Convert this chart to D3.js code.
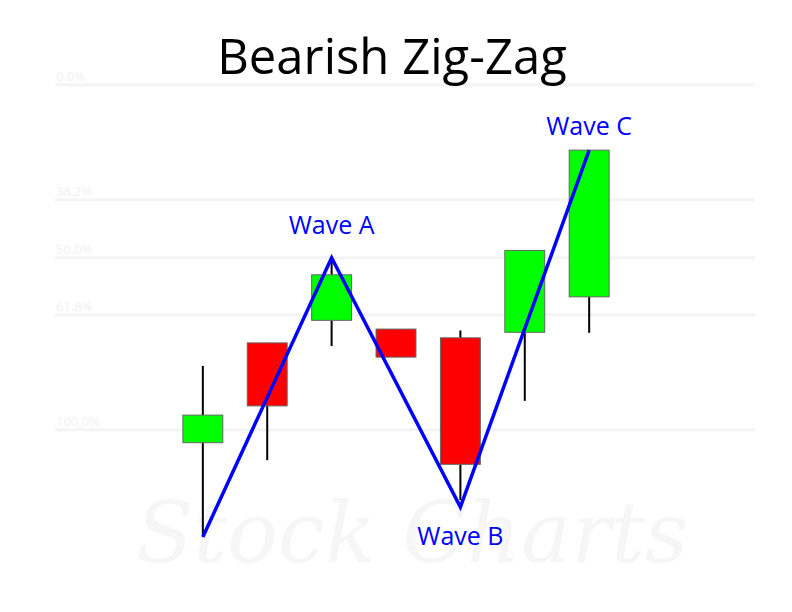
<!DOCTYPE html>
<html>
<head>
<meta charset="utf-8">
<script src="https://cdn.jsdelivr.net/npm/d3@7"></script>
<style>
  body { margin: 0; background: #fff; }
  svg { display: block; }
</style>
</head>
<body>
<script>
// candle data, in arbitrary price units
const candleIds = [1, 2, 3, 4, 5, 6, 7];
const opens  = [25.5, 47.2, 52.1, 50.2, 48.3, 49.5, 57.2];
const closes = [31.5, 33.5, 62.0, 44.1, 20.8, 67.3, 89.1];
const highs  = [42.2, 47.2, 65.9, 50.2, 49.9, 67.3, 89.1];
const lows   = [ 5.1, 21.7, 46.5, 44.1, 13.0, 34.6, 49.4];

// zig-zag pivots: candle index + price
const waveCandles = [1, 3, 5, 7];
const wavePrices  = [5.0, 65.7, 11.5, 89.1];
const waveLabels  = [null, "Wave A", "Wave B", "Wave C"];

// faint background levels (watermark)
const fibLabels = ["0.0%", "38.2%", "50.0%", "61.8%", "100.0%"];
const fibPrices = [103.3, 78.3, 65.7, 53.3, 28.3];

const width = 792, height = 612;

const svg = d3.select("body").append("svg")
  .attr("width", width)
  .attr("height", height);

let x = d3.scaleBand()
  .domain(candleIds)
  .range([170, 622])
  .paddingInner(0.38)
  .paddingOuter(0.2);

let y = d3.scaleLinear()
  .domain([0, 100])
  .range([560, 100]);

// watermark
let wm = svg.append("g").attr("class", "watermark");
fibPrices.forEach(function(p, i) {
  wm.append("line")
    .attr("x1", 55).attr("x2", 755)
    .attr("y1", y(p)).attr("y2", y(p))
    .attr("stroke", "#f4f4f4")
    .attr("stroke-width", 3);
  wm.append("text")
    .attr("x", 56).attr("y", y(p) - 4)
    .attr("font-family", "Open Sans, sans-serif")
    .attr("font-size", 13)
    .attr("fill", "#f1f1f1")
    .text(fibLabels[i]);
});
wm.append("text")
  .attr("x", 412).attr("y", 562)
  .attr("text-anchor", "middle")
  .attr("font-family", "DejaVu Serif, serif")
  .attr("font-style", "italic")
  .attr("font-size", 84)
  .attr("fill", "#f6f6f6")
  .text("Stock Charts");

// title
svg.append("text")
  .attr("x", 392).attr("y", 74)
  .attr("text-anchor", "middle")
  .attr("font-family", "Open Sans, sans-serif")
  .attr("font-size", 49)
  .attr("fill", "#000")
  .text("Bearish Zig-Zag");

// candles
let candles = candleIds.map(function(id, i) {
  return {id: id, open: opens[i], close: closes[i], high: highs[i], low: lows[i]};
});

let cg = svg.selectAll("g.candle")
  .data(candles)
  .enter().append("g")
  .attr("class", "candle");

cg.append("line")
  .attr("x1", d => x(d.id) + x.bandwidth() / 2)
  .attr("x2", d => x(d.id) + x.bandwidth() / 2)
  .attr("y1", d => y(d.high))
  .attr("y2", d => y(d.low))
  .attr("stroke", "#000")
  .attr("stroke-width", 2);

cg.append("rect")
  .attr("x", d => x(d.id))
  .attr("width", x.bandwidth())
  .attr("y", d => y(Math.max(d.open, d.close)))
  .attr("height", d => Math.abs(y(d.open) - y(d.close)))
  .attr("fill", d => d.close >= d.open ? "#00ff00" : "#ff0000")
  .attr("stroke", "#666")
  .attr("stroke-width", 1);

// zig-zag line
let wave = waveCandles.map(function(c, i) {
  return {id: c, price: wavePrices[i], label: waveLabels[i]};
});

let line = d3.line()
  .x(d => x(d.id) + x.bandwidth() / 2)
  .y(d => y(d.price));

svg.append("path")
  .datum(wave)
  .attr("d", line)
  .attr("fill", "none")
  .attr("stroke", "#0000ff")
  .attr("stroke-width", 3.5);

// wave labels
const labelOffsets = [-24, 38, -15];
svg.selectAll("text.wave")
  .data(wave.filter(d => d.label))
  .enter().append("text")
  .attr("class", "wave")
  .attr("x", d => x(d.id) + x.bandwidth() / 2)
  .attr("y", (d, i) => y(d.price) + labelOffsets[i])
  .attr("text-anchor", "middle")
  .attr("font-family", "Open Sans, sans-serif")
  .attr("font-size", 25)
  .attr("fill", "#0000ff")
  .text(d => d.label);
</script>
</body>
</html>
